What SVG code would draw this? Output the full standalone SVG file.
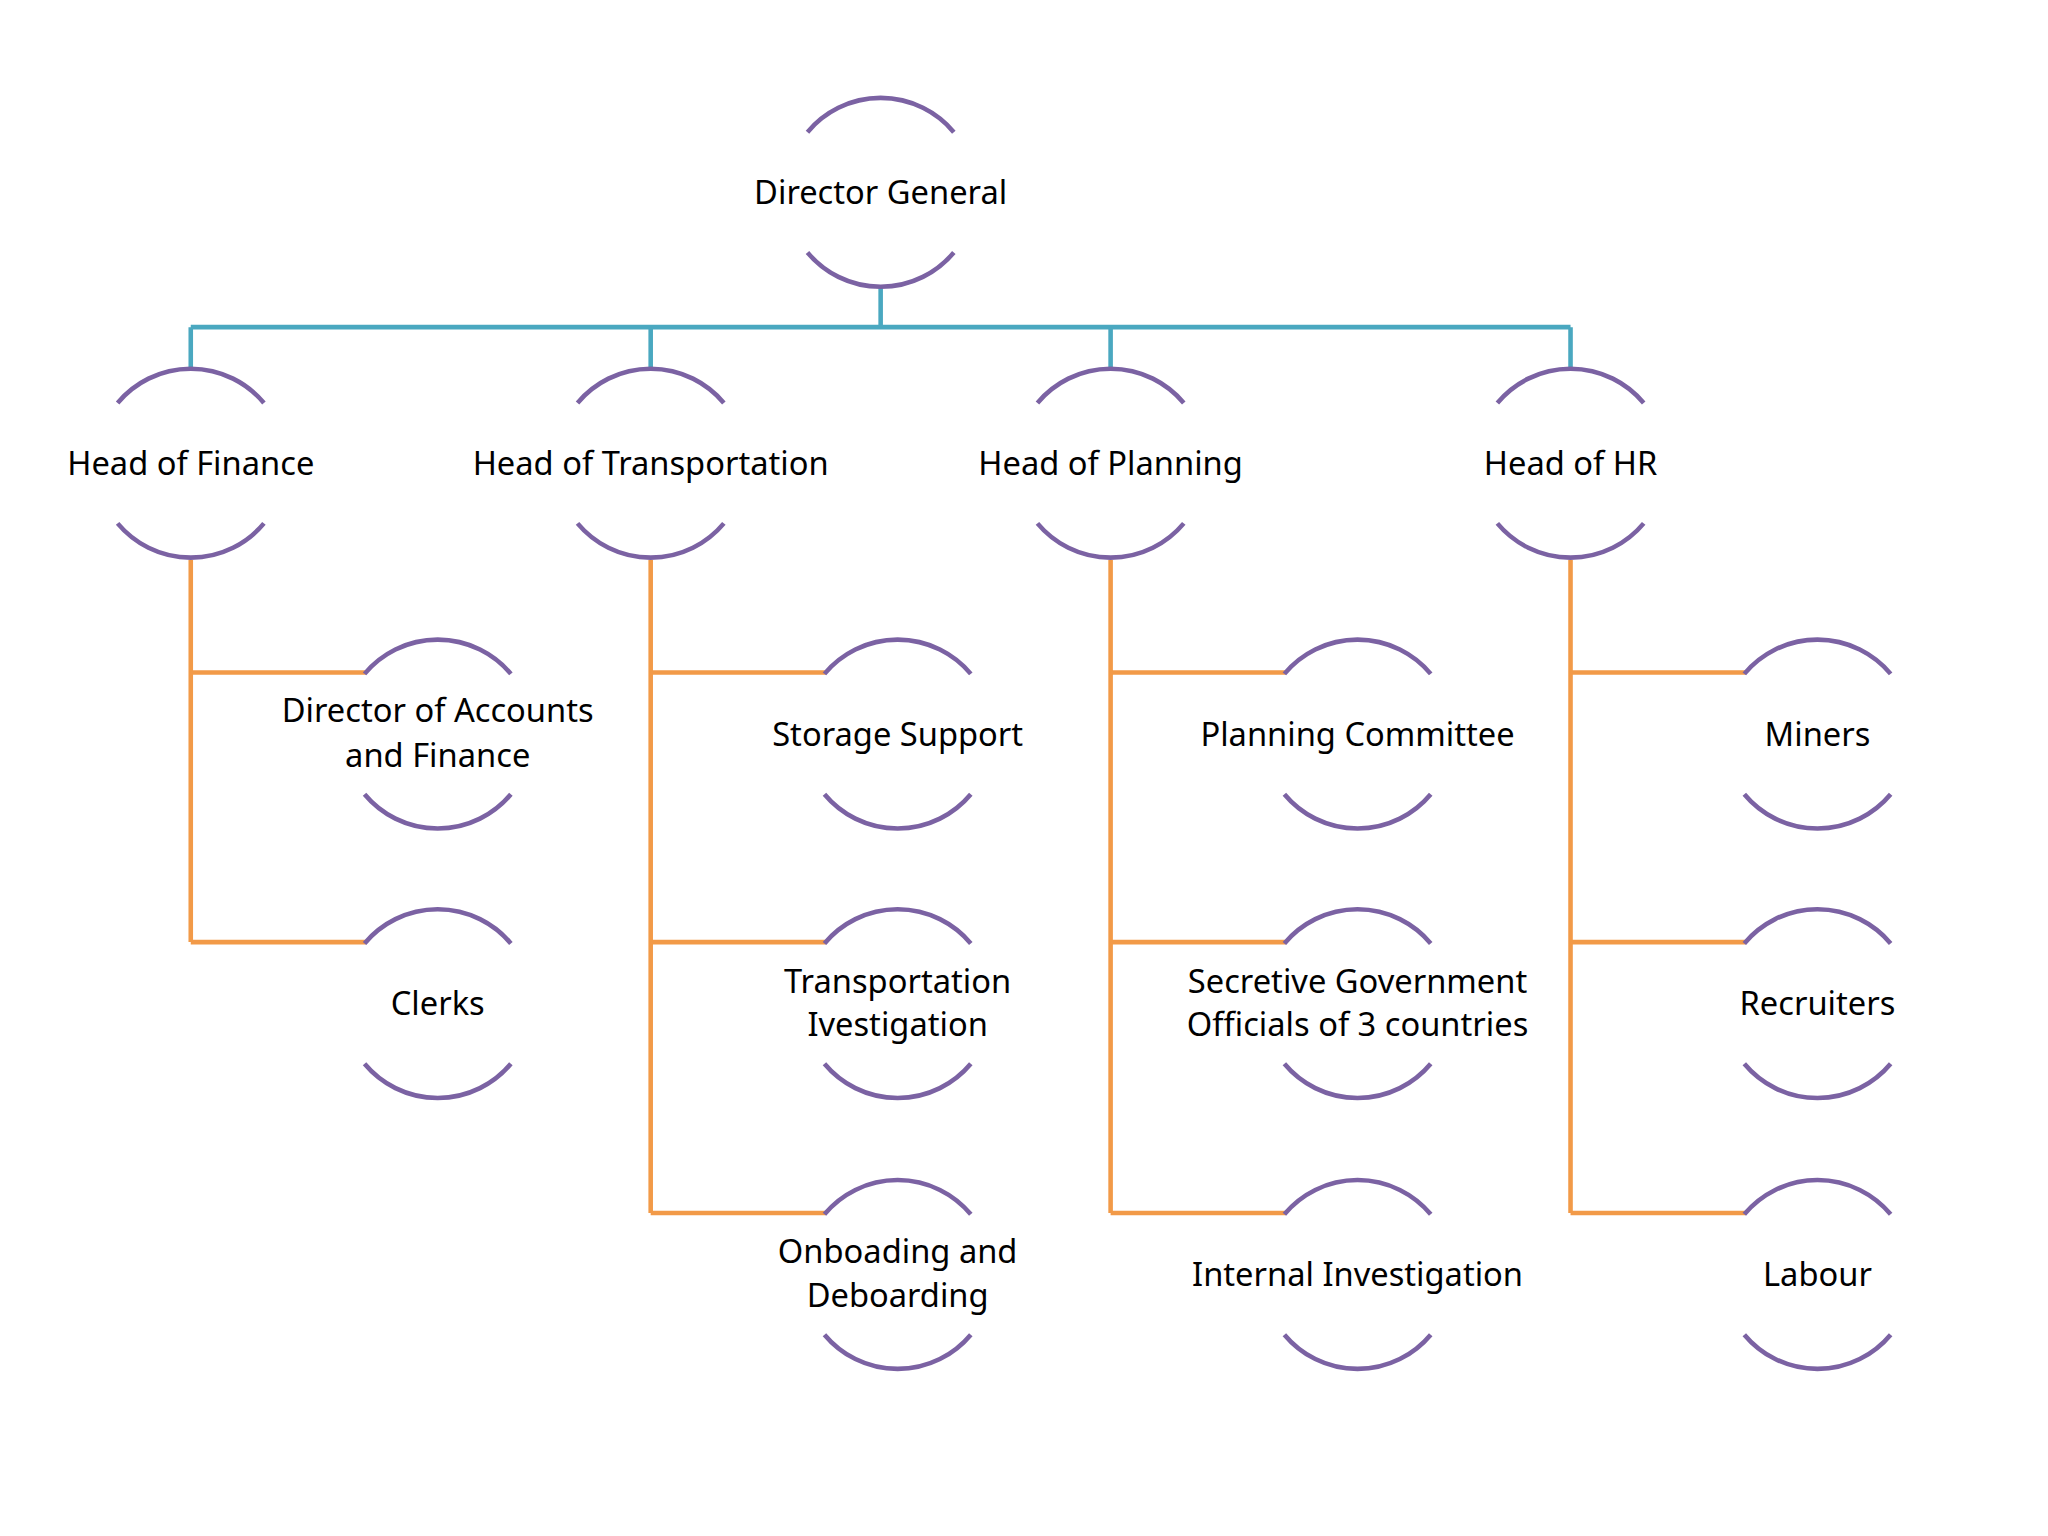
<svg xmlns="http://www.w3.org/2000/svg" width="2048" height="1536" viewBox="0 0 2048 1536">
<defs>
<style>
.arc{fill:none;stroke:#7b62a3;stroke-width:3.5}
.t{font-family:"Noto Sans","DejaVu Sans",sans-serif;font-size:25px;fill:#000;text-anchor:middle}
.b{fill:none;stroke:#4aa8c0;stroke-width:3.5}
.o{fill:none;stroke:#f29a48;stroke-width:3.5}
</style>
<g id="n">
<path class="arc" d="M-56,-46 A73,73 0 0,1 56,-46 M-56,46 A73,73 0 0,0 56,46"/>
</g>
</defs>
<rect width="2048" height="1536" fill="#fff"/>
<g transform="scale(1.3066,1.3085)">
<g id="connectors">
<path class="b" d="M674,220V250M146,250H1202M146,250V281M498,250V281M850,250V281M1202,250V281"/>
<path class="o" d="M146,428V720M146,514H280M146,720H280"/>
<path class="o" d="M498,428V927M498,514H632M498,720H632M498,927H632"/>
<path class="o" d="M850,428V927M850,514H984M850,720H984M850,927H984"/>
<path class="o" d="M1202,428V927M1202,514H1336M1202,720H1336M1202,927H1336"/>
</g>
<g id="dg"><use href="#n" x="674" y="147"/><text class="t" x="674" y="156">Director General</text></g>
<g id="hf"><use href="#n" x="146" y="354"/><text class="t" x="146" y="363">Head of Finance</text></g>
<g id="ht"><use href="#n" x="498" y="354"/><text class="t" x="498" y="363">Head of Transportation</text></g>
<g id="hp"><use href="#n" x="850" y="354"/><text class="t" x="850" y="363">Head of Planning</text></g>
<g id="hh"><use href="#n" x="1202" y="354"/><text class="t" x="1202" y="363">Head of HR</text></g>
<g id="daf"><use href="#n" x="335" y="561"/><text class="t" x="335" y="552">Director of Accounts</text><text class="t" x="335" y="586">and Finance</text></g>
<g id="cl"><use href="#n" x="335" y="767"/><text class="t" x="335" y="776">Clerks</text></g>
<g id="ss"><use href="#n" x="687" y="561"/><text class="t" x="687" y="570">Storage Support</text></g>
<g id="ti"><use href="#n" x="687" y="767"/><text class="t" x="687" y="759">Transportation</text><text class="t" x="687" y="792">Ivestigation</text></g>
<g id="od"><use href="#n" x="687" y="974"/><text class="t" x="687" y="965">Onboading and</text><text class="t" x="687" y="999">Deboarding</text></g>
<g id="pc"><use href="#n" x="1039" y="561"/><text class="t" x="1039" y="570">Planning Committee</text></g>
<g id="sg"><use href="#n" x="1039" y="767"/><text class="t" x="1039" y="759">Secretive Government</text><text class="t" x="1039" y="792">Officials of 3 countries</text></g>
<g id="ii"><use href="#n" x="1039" y="974"/><text class="t" x="1039" y="983">Internal Investigation</text></g>
<g id="mi"><use href="#n" x="1391" y="561"/><text class="t" x="1391" y="570">Miners</text></g>
<g id="re"><use href="#n" x="1391" y="767"/><text class="t" x="1391" y="776">Recruiters</text></g>
<g id="la"><use href="#n" x="1391" y="974"/><text class="t" x="1391" y="983">Labour</text></g>
</g>
</svg>
